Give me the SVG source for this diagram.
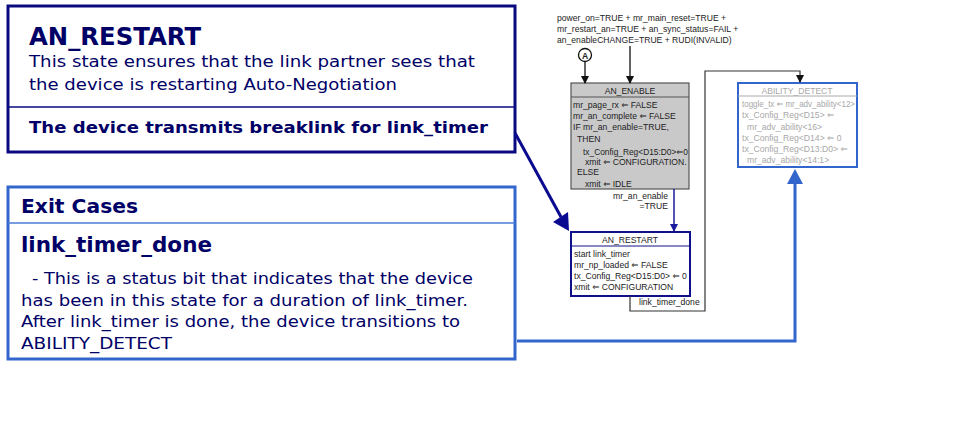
<svg xmlns="http://www.w3.org/2000/svg" width="967" height="423" viewBox="0 0 967 423">
<defs>
<style>
.navy{fill:#000066;font-family:"DejaVu Sans",Verdana,sans-serif}
.b{font-weight:bold}
.sm{font-family:"Liberation Sans",Arial,"DejaVu Sans",sans-serif;font-size:8.6px;fill:#222}
.gr{font-family:"Liberation Sans",Arial,"DejaVu Sans",sans-serif;font-size:8.6px;fill:#a8a8a8}
.mid{text-anchor:middle}
</style>
<marker id="ah" markerWidth="8" markerHeight="8" refX="7" refY="4" orient="auto" markerUnits="userSpaceOnUse">
<path d="M0,0 L8,4 L0,8 Z" fill="#111"/>
</marker>
<marker id="ahb" markerWidth="8" markerHeight="8" refX="7" refY="4" orient="auto" markerUnits="userSpaceOnUse">
<path d="M0,0 L8,4 L0,8 Z" fill="#1a1aa0"/>
</marker>
</defs>
<rect width="967" height="423" fill="#ffffff"/>

<g id="info-an-restart">
<rect x="8" y="6" width="507" height="146" fill="#fff" stroke="#0a0a80" stroke-width="3"/>
<line x1="8" y1="107" x2="515" y2="107" stroke="#0a0a80" stroke-width="1.5"/>
<text class="navy b" x="29" y="45" font-size="24" textLength="172" lengthAdjust="spacingAndGlyphs">AN_RESTART</text>
<text class="navy" x="29" y="67" font-size="16" textLength="446" lengthAdjust="spacingAndGlyphs">This state ensures that the link partner sees that</text>
<text class="navy" x="29" y="90" font-size="16" textLength="368" lengthAdjust="spacingAndGlyphs">the device is restarting Auto-Negotiation</text>
<text class="navy b" x="29" y="133" font-size="16" textLength="459" lengthAdjust="spacingAndGlyphs">The device transmits breaklink for link_timer</text>
</g>

<g id="exit-cases">
<rect x="8" y="187" width="507" height="172" fill="#fff" stroke="#3366cc" stroke-width="3"/>
<line x1="8" y1="223" x2="515" y2="223" stroke="#4a7bd6" stroke-width="1.5"/>
<text class="navy b" x="21" y="213" font-size="19" textLength="117" lengthAdjust="spacingAndGlyphs">Exit Cases</text>
<text class="navy b" x="21" y="252" font-size="21" textLength="191" lengthAdjust="spacingAndGlyphs">link_timer_done</text>
<text class="navy" x="32" y="284" font-size="16" textLength="441" lengthAdjust="spacingAndGlyphs">- This is a status bit that indicates that the device</text>
<text class="navy" x="21" y="306" font-size="16" textLength="447" lengthAdjust="spacingAndGlyphs">has been in this state for a duration of link_timer.</text>
<text class="navy" x="21" y="327" font-size="16" textLength="439" lengthAdjust="spacingAndGlyphs">After link_timer is done, the device transitions to</text>
<text class="navy" x="21" y="349" font-size="16" textLength="151" lengthAdjust="spacingAndGlyphs">ABILITY_DETECT</text>
</g>

<g id="entry-condition">
<text class="sm" x="557" y="21">power_on=TRUE + mr_main_reset=TRUE +</text>
<text class="sm" x="557" y="32">mr_restart_an=TRUE + an_sync_status=FAIL +</text>
<text class="sm" x="557" y="43">an_enableCHANGE=TRUE + RUDI(INVALID)</text>
</g>

<g id="connector-a">
<circle cx="585" cy="55" r="6.5" fill="#fff" stroke="#111" stroke-width="1.3"/>
<text class="sm mid b" x="585" y="58.5" font-size="8">A</text>
</g>

<g id="an-enable">
<rect x="571" y="83" width="118" height="106" fill="#c9c9c9" stroke="#555" stroke-width="1.2"/>
<line x1="571" y1="97" x2="689" y2="97" stroke="#555" stroke-width="1"/>
<text class="sm mid" x="630" y="94">AN_ENABLE</text>
<text class="sm" x="573" y="108">mr_page_rx ⇐ FALSE</text>
<text class="sm" x="573" y="119">mr_an_complete ⇐ FALSE</text>
<text class="sm" x="573" y="130">IF mr_an_enable=TRUE,</text>
<text class="sm" x="577" y="142">THEN</text>
<text class="sm" x="583" y="155" textLength="105" lengthAdjust="spacingAndGlyphs">tx_Config_Reg&lt;D15:D0&gt;⇐0</text>
<text class="sm" x="585" y="165">xmit ⇐ CONFIGURATION.</text>
<text class="sm" x="577" y="175">ELSE</text>
<text class="sm" x="585" y="187">xmit ⇐ IDLE</text>
</g>

<g id="an-restart">
<rect x="571" y="232" width="119" height="64" fill="#fff" stroke="#10108a" stroke-width="2"/>
<line x1="571" y1="246" x2="690" y2="246" stroke="#10108a" stroke-width="1"/>
<text class="sm mid" x="630" y="243">AN_RESTART</text>
<text class="sm" x="574" y="257">start link_timer</text>
<text class="sm" x="574" y="268">mr_np_loaded ⇐ FALSE</text>
<text class="sm" x="574" y="279">tx_Config_Reg&lt;D15:D0&gt; ⇐ 0</text>
<text class="sm" x="574" y="290">xmit ⇐ CONFIGURATION</text>
</g>

<g id="ability-detect">
<rect x="738" y="83" width="119" height="84" fill="#fff" stroke="#3366cc" stroke-width="2"/>
<line x1="738" y1="96" x2="857" y2="96" stroke="#aaa" stroke-width="1"/>
<text class="gr mid" x="797" y="94">ABILITY_DETECT</text>
<text class="gr" x="742" y="107" textLength="113" lengthAdjust="spacingAndGlyphs">toggle_tx ⇐ mr_adv_ability&lt;12&gt;</text>
<text class="gr" x="742" y="118">tx_Config_Reg&lt;D15&gt; ⇐</text>
<text class="gr" x="747" y="130">mr_adv_ability&lt;16&gt;</text>
<text class="gr" x="742" y="141">tx_Config_Reg&lt;D14&gt; ⇐ 0</text>
<text class="gr" x="742" y="152">tx_Config_Reg&lt;D13:D0&gt; ⇐</text>
<text class="gr" x="747" y="163">mr_adv_ability&lt;14:1&gt;</text>
</g>

<g id="connectors" fill="none">
<line x1="585" y1="62" x2="585" y2="83" stroke="#111" stroke-width="1.3" marker-end="url(#ah)"/>
<line x1="630" y1="46" x2="630" y2="83" stroke="#111" stroke-width="1.3" marker-end="url(#ah)"/>
<line x1="674" y1="189" x2="674" y2="231" stroke="#1a1aa0" stroke-width="1.5" marker-end="url(#ahb)"/>
<text class="sm" x="668" y="199" text-anchor="end">mr_an_enable</text>
<text class="sm" x="668" y="209" text-anchor="end">=TRUE</text>
<path d="M630,296 V311 H705 V71 H800 V82" stroke="#333" stroke-width="1.2" marker-end="url(#ah)"/>
<text class="sm" x="639" y="305">link_timer_done</text>
<line x1="515" y1="133" x2="561" y2="217" stroke="#0a0a90" stroke-width="3"/>
<polygon points="569,231 553,222 568,212" fill="#0a0a90"/>
<path d="M517,341 H795 V182" stroke="#3366cc" stroke-width="3"/>
<polygon points="795,169 787,184 803,184" fill="#3366cc"/>
</g>
</svg>
